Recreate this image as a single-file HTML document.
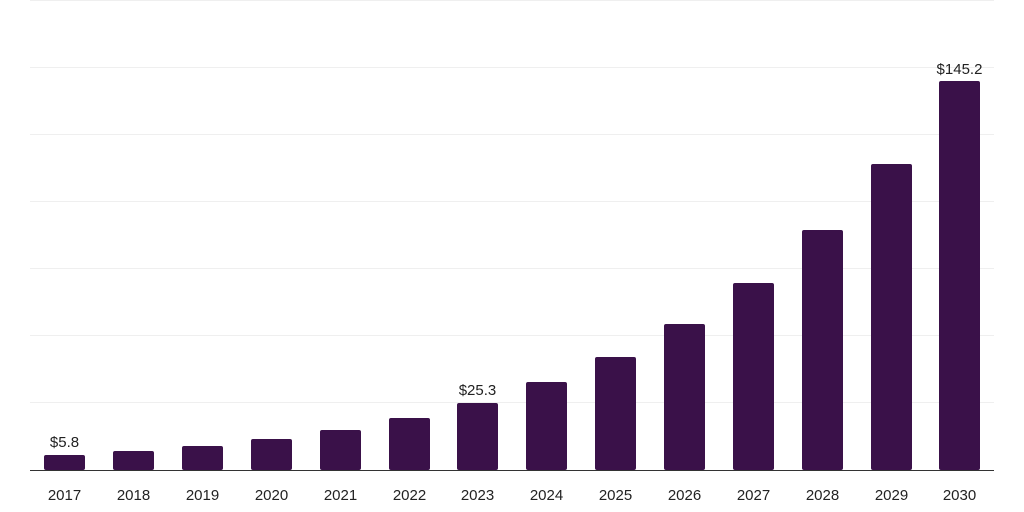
<!DOCTYPE html>
<html><head><style>
body{margin:0;background:#fff;}
svg{display:block;}
text{font-family:"Liberation Sans",sans-serif;font-size:15px;fill:#222;}
</style></head><body>
<svg width="1024" height="512" xmlns="http://www.w3.org/2000/svg">
<g stroke="#efefef" stroke-width="1">
<line x1="30" x2="994" y1="0.5" y2="0.5"/>
<line x1="30" x2="994" y1="67.5" y2="67.5"/>
<line x1="30" x2="994" y1="134.5" y2="134.5"/>
<line x1="30" x2="994" y1="201.5" y2="201.5"/>
<line x1="30" x2="994" y1="268.5" y2="268.5"/>
<line x1="30" x2="994" y1="335.5" y2="335.5"/>
<line x1="30" x2="994" y1="402.5" y2="402.5"/>
</g>
<g fill="#3a1149">
<rect x="44" y="455" width="41" height="15" rx="2"/>
<rect x="113" y="451" width="41" height="19" rx="2"/>
<rect x="182" y="446" width="41" height="24" rx="2"/>
<rect x="251" y="439" width="41" height="31" rx="2"/>
<rect x="320" y="430" width="41" height="40" rx="2"/>
<rect x="389" y="418" width="41" height="52" rx="2"/>
<rect x="457" y="403" width="41" height="67" rx="2"/>
<rect x="526" y="382" width="41" height="88" rx="2"/>
<rect x="595" y="357" width="41" height="113" rx="2"/>
<rect x="664" y="324" width="41" height="146" rx="2"/>
<rect x="733" y="283" width="41" height="187" rx="2"/>
<rect x="802" y="230" width="41" height="240" rx="2"/>
<rect x="871" y="164" width="41" height="306" rx="2"/>
<rect x="939" y="81" width="41" height="389" rx="2"/>
</g>
<line x1="30" x2="994" y1="470.5" y2="470.5" stroke="#333" stroke-width="1"/>
<g text-anchor="middle">
<text x="64.5" y="447">$5.8</text>
<text x="477.5" y="395">$25.3</text>
<text x="959.5" y="74">$145.2</text>
<text x="64.5" y="500">2017</text>
<text x="133.5" y="500">2018</text>
<text x="202.5" y="500">2019</text>
<text x="271.5" y="500">2020</text>
<text x="340.5" y="500">2021</text>
<text x="409.5" y="500">2022</text>
<text x="477.5" y="500">2023</text>
<text x="546.5" y="500">2024</text>
<text x="615.5" y="500">2025</text>
<text x="684.5" y="500">2026</text>
<text x="753.5" y="500">2027</text>
<text x="822.5" y="500">2028</text>
<text x="891.5" y="500">2029</text>
<text x="959.5" y="500">2030</text>
</g>
</svg>
</body></html>
